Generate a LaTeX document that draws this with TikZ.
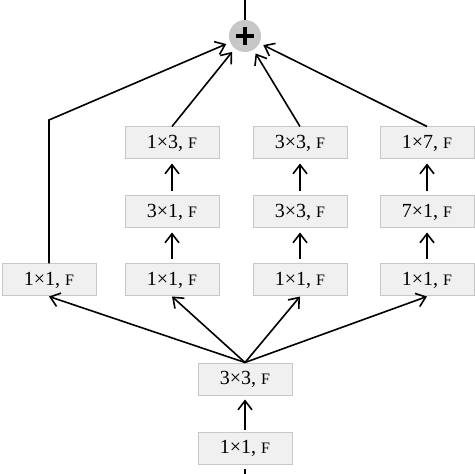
\documentclass[tikz,border=0pt]{standalone}
\usepackage{fontspec}
\setmainfont{Liberation Serif}
\usepackage{xcolor}
\usetikzlibrary{positioning, arrows.meta}

\newcommand{\fsc}{{\footnotesize F}}
\tikzset{
  convbox/.style={draw=black!22, fill=black!6, line width=0.5pt, minimum width=47pt, minimum height=16pt, inner sep=0pt, font=\normalsize},
  addnode/.style={circle, fill=black!22, minimum size=16pt, inner sep=0pt,
    path picture={\draw[line width=2pt, black] ([xshift=-4.5pt]path picture bounding box.center) -- ([xshift=4.5pt]path picture bounding box.center)
      ([yshift=-4.5pt]path picture bounding box.center) -- ([yshift=4.5pt]path picture bounding box.center);}},
  arr/.style={line width=0.8pt, black, -{Straight Barb[length=4.5pt,width=7pt]}},
  ln/.style={line width=0.8pt, black}
}

\begin{document}
\begin{tikzpicture}[x=0.5pt, y=-0.5pt]
  \useasboundingbox (0,0) rectangle (474,474);

  \node[addnode] (add) at (245,36) {};
  \coordinate (out) at (245,0);
  \coordinate (in) at (245,474);

  % bottom stem
  \node[convbox] (stemA) at (245,448) {1×1, \fsc};
  \node[convbox] (stemB) at (245,379) {3×3, \fsc};

  % branches
  \node[convbox] (brA) at (49,280) {1×1, \fsc};
  \node[convbox] (brBa) at (172,280) {1×1, \fsc};
  \node[convbox] (brBb) at (172,212) {3×1, \fsc};
  \node[convbox] (brBc) at (172,143) {1×3, \fsc};
  \node[convbox] (brCa) at (300,280) {1×1, \fsc};
  \node[convbox] (brCb) at (300,212) {3×3, \fsc};
  \node[convbox] (brCc) at (300,143) {3×3, \fsc};
  \node[convbox] (brDa) at (427,280) {1×1, \fsc};
  \node[convbox] (brDb) at (427,212) {7×1, \fsc};
  \node[convbox] (brDc) at (427,143) {1×7, \fsc};
  \coordinate (bend) at (49,120);

  \draw[ln] (add) -- (out);
  \draw[ln] ([yshift=-2pt]stemA.south) -- (in);
  \draw[arr, shorten <=1pt, shorten >=2pt] (stemA) -- (stemB);

  \foreach \b in {brA, brBa, brCa, brDa}
    \draw[arr] (stemB.north) -- (\b.south);

  \foreach \c/\d in {brBa/brBb, brBb/brBc, brCa/brCb, brCb/brCc, brDa/brDb, brDb/brDc}
    \draw[arr, shorten <=2pt, shorten >=2pt] (\c) -- (\d);

  \draw[arr, shorten >=2pt] (brA.north) -- (bend) -- (add);
  \foreach \e in {brBc, brCc, brDc}
    \draw[arr, shorten >=2pt] (\e.north) -- (add);
\end{tikzpicture}
\end{document}
